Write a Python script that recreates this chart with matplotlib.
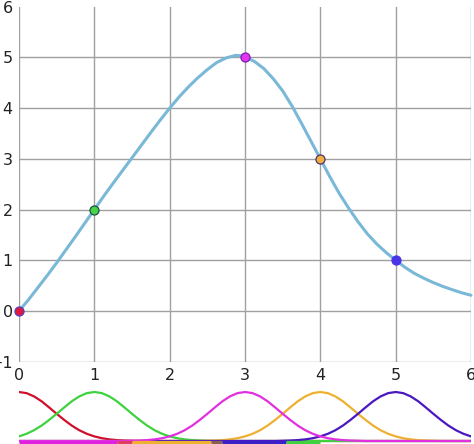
import numpy as np
import matplotlib.pyplot as plt

# interpolated curve
curve_x = [0, 0.125, 0.25, 0.375, 0.5, 0.625, 0.75, 0.875, 1, 1.125, 1.25, 1.375, 1.5,
           1.625, 1.75, 1.875, 2, 2.125, 2.25, 2.375, 2.5, 2.625, 2.75, 2.875, 2.9375,
           3, 3.0625, 3.125, 3.25, 3.375, 3.5, 3.625, 3.75, 3.875, 4, 4.125, 4.25,
           4.375, 4.5, 4.625, 4.75, 4.875, 5, 5.125, 5.25, 5.375, 5.5, 5.625, 5.75,
           5.875, 6]
curve_y = [0, 0.22, 0.46, 0.70, 0.95, 1.21, 1.47, 1.735, 2.0, 2.265, 2.52, 2.77, 3.02,
           3.27, 3.52, 3.765, 4.0, 4.22, 4.42, 4.60, 4.76, 4.9, 4.99, 5.04, 5.035,
           5.0, 4.965, 4.92, 4.78, 4.58, 4.34, 4.04, 3.70, 3.35, 3.0, 2.65, 2.32,
           2.03, 1.76, 1.52, 1.32, 1.15, 1.0, 0.86, 0.74, 0.645, 0.56, 0.485, 0.42,
           0.36, 0.31]

# sample points
pts_x = [0, 1, 3, 4, 5]
pts_y = [0, 2, 5, 3, 1]
pts_color = ['#e0183c', '#44d444', '#e633f0', '#f0b040', '#4a34e8']
pts_edge = ['#5040c0', '#205050', '#7a20b0', '#503070', '#4a34e8']

# basis bumps (one height profile, offset from centre, read from the lower strip)
bump_off = [0, 0.1, 0.2, 0.3, 0.4, 0.5, 0.6, 0.7, 0.8, 0.9, 1.0, 1.1, 1.2, 1.3, 1.4, 1.5, 1.6, 6.0]
bump_h = [1, 0.977, 0.91, 0.81, 0.685, 0.555, 0.43, 0.315, 0.22, 0.147, 0.094, 0.057,
          0.033, 0.018, 0.01, 0.005, 0.0, 0.0]
bump_centers = [0, 1, 3, 4, 5]
bump_colors = ['#d0102a', '#3ed23e', '#e030e0', '#eeb030', '#4a18c0']
bump_order = [0, 1, 3, 4, 2]

# coloured strip under the bumps
strip_x0 = [0.0, 1.3, 1.5, 2.55, 2.7, 3.55]
strip_x1 = [1.3, 1.5, 2.55, 2.7, 3.55, 4.0]
strip_c = ['#e020e0', '#e04060', '#eeb030', '#8a6050', '#3a20c8', '#40d040']

fig = plt.figure(figsize=(4.74, 4.44), dpi=100)
ax = fig.add_axes([19/474, (444-361.7)/444, 452/474, 355/444])
ax.set_xlim(0, 6)
ax.set_ylim(-1, 6)
for s in ax.spines.values():
    s.set_visible(False)
for gx in range(0, 7):
    ax.plot([gx, gx], [-1, 6], color='#a0a0a0', lw=1.0, zorder=1)
for gy in range(-1, 6):
    ax.plot([0, 6], [gy, gy], color='#a0a0a0', lw=1.0, zorder=1)
ax.set_xticks(range(0, 7))
ax.set_yticks(range(-1, 7))
ax.tick_params(length=0, labelsize=11.5, pad=4.5, colors='#222222')

ax.plot(curve_x, curve_y, color='#7ab8d8', lw=2.2, solid_joinstyle='round',
        solid_capstyle='round', zorder=3, clip_on=False)
for x, y, c, e in zip(pts_x, pts_y, pts_color, pts_edge):
    ax.plot(x, y, 'o', ms=6.5, mfc=c, mec=e, mew=0.9, zorder=4, clip_on=False)

# lower strip with the basis functions
bx = fig.add_axes([19/474, 0, 452/474, 59/444])
bx.set_xlim(0, 6)
bx.set_ylim(-3/49, 1 + 7/49)
bx.axis('off')
off = np.array(bump_off)
h = np.array(bump_h)
for i in bump_order:
    xs = np.concatenate([bump_centers[i] - off[::-1], bump_centers[i] + off[1:]])
    ys = np.concatenate([h[::-1], h[1:]])
    bx.plot(xs, ys, color=bump_colors[i], lw=1.6, zorder=2)
for a, b, c in zip(strip_x0, strip_x1, strip_c):
    bx.plot([a, b], [-0.025, -0.025], color=c, lw=2.3, solid_capstyle='butt', zorder=3)

fig.savefig('out.png', dpi=100)
